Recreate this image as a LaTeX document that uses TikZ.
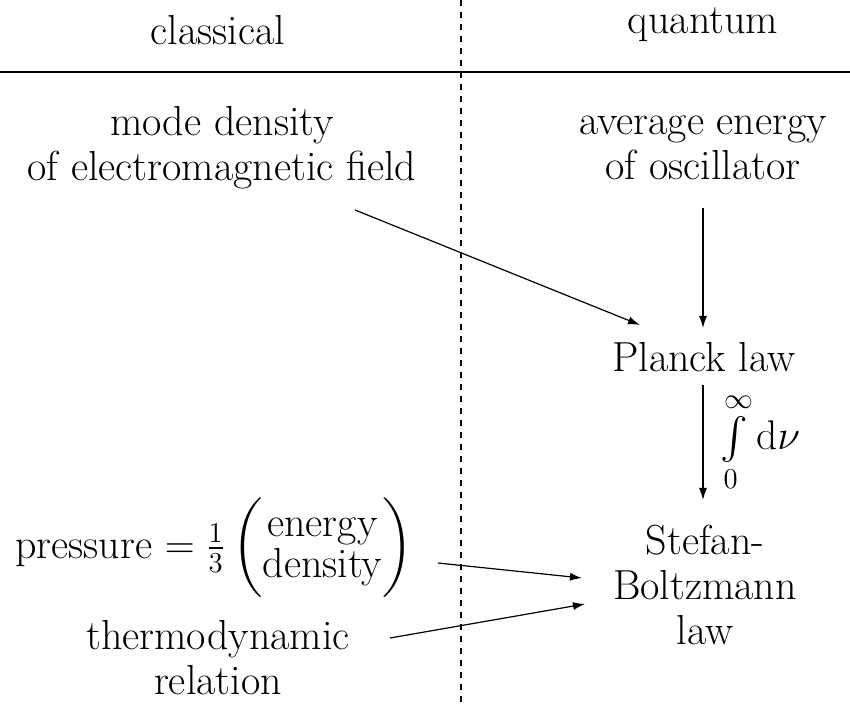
\documentclass[tikz,border=0pt]{standalone}
\usepackage{amsmath}
\usetikzlibrary{arrows.meta}
\begin{document}
\begin{tikzpicture}[x=0.5pt,y=-0.5pt,
  lbl/.style={align=center,font=\fontsize{21}{22.5}\selectfont,inner sep=0pt},
  arr/.style={-{Latex[length=6pt,width=4pt]},semithick}]
\useasboundingbox (0,0) rectangle (850,704);
\draw[semithick] (0,72) -- (850,72);
\draw[dashed,semithick] (461,0) -- (461,704);
\node[lbl] (cl) at (218,30) {classical};
\node[lbl] (qu) at (703,25) {quantum};
\node[lbl] (mode) at (222,148) {mode density\\of electromagnetic field};
\node[lbl] (avg) at (703,148) {average energy\\of oscillator};
\node[lbl] (planck) at (704,357) {Planck law};
\node[lbl] (sb) at (705,585) {Stefan-\\Boltzmann\\law};
\node[lbl] (pr) at (214,548) {pressure $=\frac13\left(\begin{array}{@{}c@{}}\text{energy}\\[-2pt]\text{density}\end{array}\right)$};
\node[lbl] (th) at (218,658) {thermodynamic\\relation};
\coordinate (m1) at (355,210);
\coordinate (p1) at (640,325);
\coordinate (a1) at (703,208);
\coordinate (p2) at (703,328);
\coordinate (p3) at (703,385);
\coordinate (s1) at (703,500);
\coordinate (r1) at (438,563);
\coordinate (s2) at (582,578);
\coordinate (t1) at (390,638);
\coordinate (s3) at (585,604);
\draw[arr] (m1) -- (p1);
\draw[arr] (a1) -- (p2);
\draw[arr] (p3) -- (s1);
\node[lbl,anchor=west] (int) at (720,442) {$\int\limits_0^\infty \mathrm{d}\nu$};
\draw[arr] (r1) -- (s2);
\draw[arr] (t1) -- (s3);
\end{tikzpicture}
\end{document}
